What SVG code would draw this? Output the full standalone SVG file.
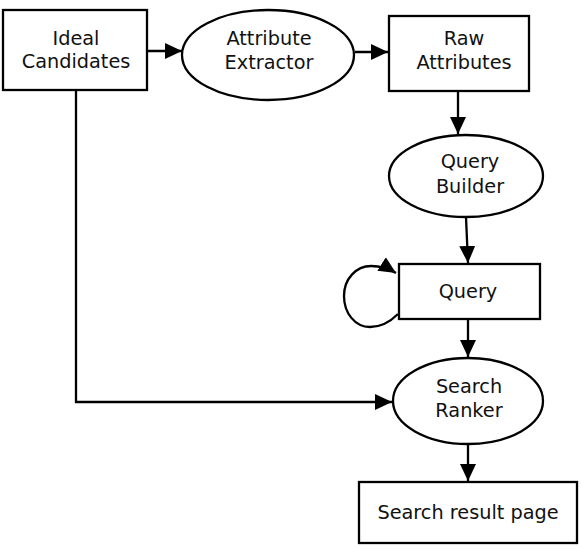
<svg xmlns="http://www.w3.org/2000/svg" width="582" height="547" viewBox="0 0 582 547">
<style>
.n{fill:#fff;stroke:#000;stroke-width:2.3}
.t{font-family:"DejaVu Sans",sans-serif;font-size:19.3px;fill:#111;text-anchor:middle}
.e{fill:none;stroke:#000;stroke-width:2.3}
</style>
<defs>
<marker id="a" markerUnits="userSpaceOnUse" markerWidth="18" markerHeight="18" viewBox="0 0 18 18" refX="17" refY="9" orient="auto">
<path d="M0,1 L17,9 L0,17 Z" fill="#000"/>
</marker>
</defs>
<rect width="582" height="547" fill="#fff"/>
<g id="connectors">
<path class="e" d="M147,51 L182,51" marker-end="url(#a)"/>
<path class="e" d="M355,52 L388,52" marker-end="url(#a)"/>
<path class="e" d="M458,91 L458,134" marker-end="url(#a)"/>
<path class="e" d="M466,217 L468,263" marker-end="url(#a)"/>
<path class="e" d="M398,314 C390,322 380,327 370,327 C355,327 344,313 344,296 C344,279 356,266 371,266 C379,266 388,268 396,273" marker-end="url(#a)"/>
<path class="e" d="M468,319 L468,357" marker-end="url(#a)"/>
<path class="e" d="M76,90 L76,402 L392,402" marker-end="url(#a)"/>
<path class="e" d="M468,445 L468,481" marker-end="url(#a)"/>
</g>
<g id="ideal">
<rect class="n" x="3" y="10" width="144" height="80"/>
<text class="t" x="76" y="45">Ideal</text>
<text class="t" x="76" y="68">Candidates</text>
</g>
<g id="extractor">
<ellipse class="n" cx="268" cy="55" rx="86" ry="45"/>
<text class="t" x="269" y="45">Attribute</text>
<text class="t" x="269" y="69">Extractor</text>
</g>
<g id="raw">
<rect class="n" x="389" y="16" width="140" height="75"/>
<text class="t" x="464" y="45">Raw</text>
<text class="t" x="464" y="69">Attributes</text>
</g>
<g id="builder">
<ellipse class="n" cx="466" cy="176" rx="77" ry="41"/>
<text class="t" x="470" y="168">Query</text>
<text class="t" x="470" y="193">Builder</text>
</g>
<g id="query">
<rect class="n" x="399" y="264" width="141" height="55"/>
<text class="t" x="468" y="298">Query</text>
</g>
<g id="ranker">
<ellipse class="n" cx="468" cy="401" rx="75" ry="43"/>
<text class="t" x="469" y="393">Search</text>
<text class="t" x="469" y="417">Ranker</text>
</g>
<g id="result">
<rect class="n" x="359" y="482" width="218" height="61"/>
<text class="t" x="468" y="519">Search result page</text>
</g>
</svg>
